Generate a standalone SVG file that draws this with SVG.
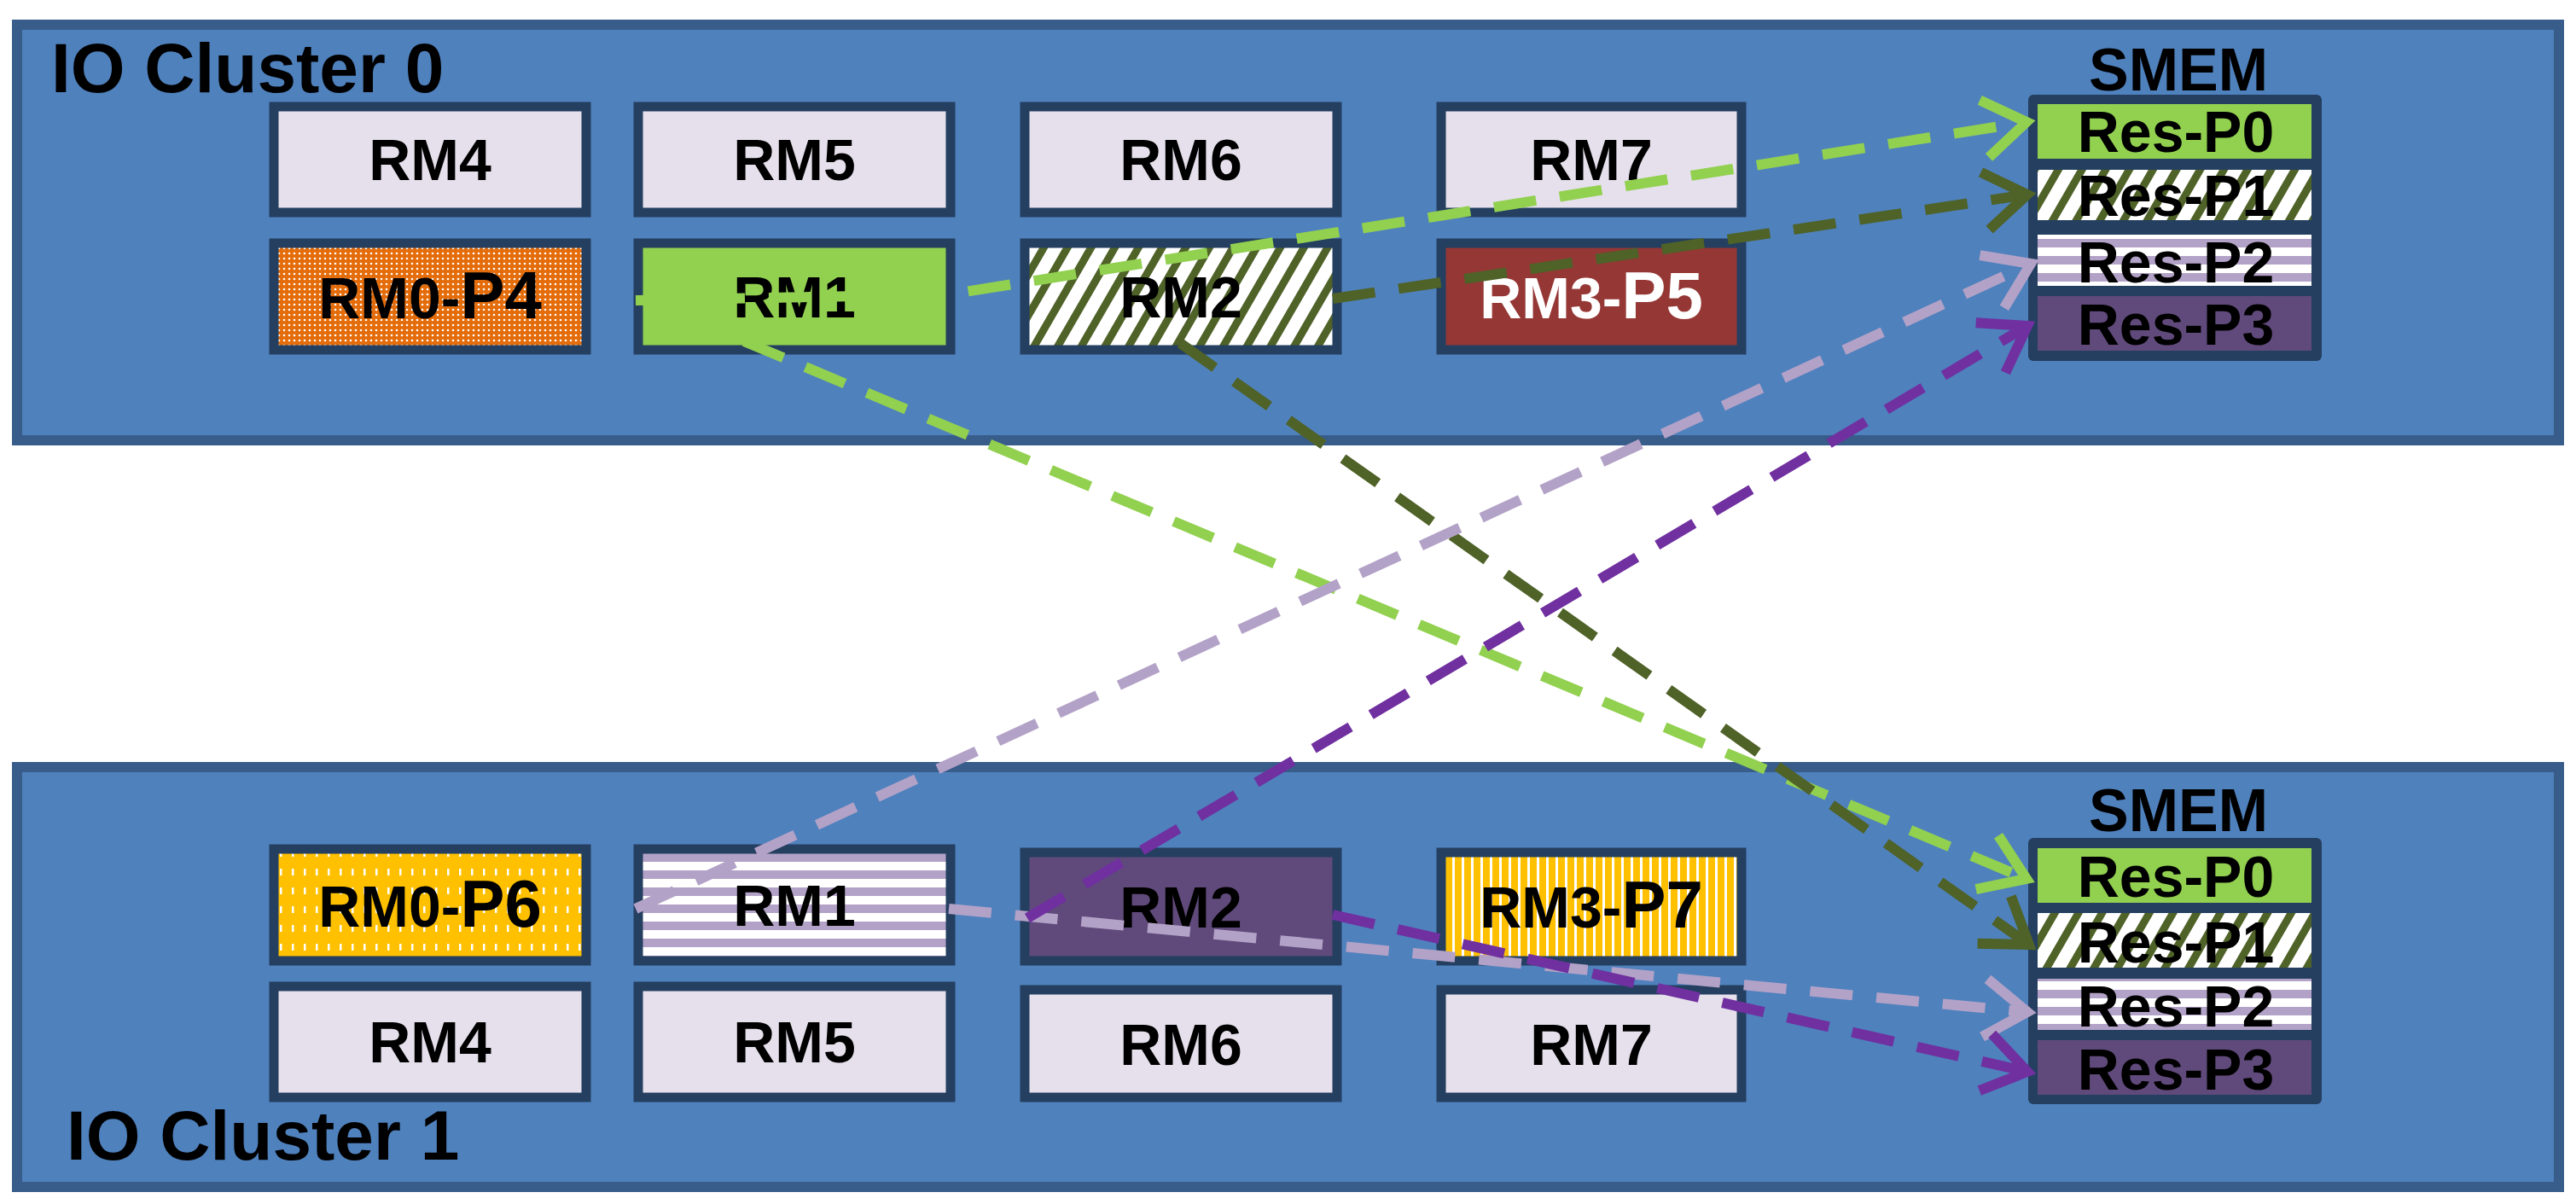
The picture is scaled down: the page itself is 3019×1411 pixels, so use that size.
<svg xmlns="http://www.w3.org/2000/svg" width="3019" height="1411" viewBox="0 0 3019 1411">
<style>
.cl{fill:#4f81bd;stroke:#385d8a;stroke-width:12}
.bx{stroke:#243f60;stroke-width:11}
.t{font-family:"Liberation Sans",Arial,sans-serif;font-weight:bold;fill:#000;text-anchor:middle}
.rm{font-size:68px}
.ttl{font-family:"Liberation Sans",Arial,sans-serif;font-weight:bold;font-size:82px;fill:#000}
.c{fill:none;stroke-width:12;stroke-dasharray:50 28}
</style>
<defs>
<pattern id="hatch" width="24" height="24" patternUnits="userSpaceOnUse" patternTransform="rotate(30)"><rect width="24" height="24" fill="#fff"/><rect width="9" height="24" fill="#4f6228"/></pattern>
<pattern id="hstr" width="20" height="20" patternUnits="userSpaceOnUse"><rect width="20" height="20" fill="#fff"/><rect y="0" width="20" height="10" fill="#b3a2c7"/></pattern>
<pattern id="vstr" width="11" height="11" patternUnits="userSpaceOnUse"><rect width="11" height="11" fill="#ffc000"/><rect x="8" width="3" height="11" fill="#fff"/></pattern>
<pattern id="odot" width="6" height="6" patternUnits="userSpaceOnUse"><rect width="6" height="6" fill="#e46c0a"/><circle cx="3" cy="3" r="1.3" fill="#fff"/></pattern>
<pattern id="ydot" width="14" height="22" patternUnits="userSpaceOnUse"><rect width="14" height="22" fill="#ffc000"/><rect x="6" y="6" width="2.5" height="8" fill="#fff"/></pattern>
<marker id="mG" markerUnits="userSpaceOnUse" markerWidth="90" markerHeight="90" viewBox="-70 -45 90 90" refX="0" refY="0" orient="auto"><path d="M-50 -34 L0 0 L-50 34" fill="none" stroke="#92d050" stroke-width="12"/></marker>
<marker id="mO" markerUnits="userSpaceOnUse" markerWidth="90" markerHeight="90" viewBox="-70 -45 90 90" refX="0" refY="0" orient="auto"><path d="M-50 -34 L0 0 L-50 34" fill="none" stroke="#4f6228" stroke-width="12"/></marker>
<marker id="mL" markerUnits="userSpaceOnUse" markerWidth="90" markerHeight="90" viewBox="-70 -45 90 90" refX="0" refY="0" orient="auto"><path d="M-50 -34 L0 0 L-50 34" fill="none" stroke="#b3a2c7" stroke-width="12"/></marker>
<marker id="mP" markerUnits="userSpaceOnUse" markerWidth="90" markerHeight="90" viewBox="-70 -45 90 90" refX="0" refY="0" orient="auto"><path d="M-50 -34 L0 0 L-50 34" fill="none" stroke="#7030a0" stroke-width="12"/></marker>
</defs>

<g id="cluster0">
<rect class="cl" x="20" y="29" width="2979" height="487"/>
<text class="ttl" x="60" y="108">IO Cluster 0</text>
</g>
<g id="cluster1">
<rect class="cl" x="20" y="899" width="2979" height="492"/>
<text class="ttl" x="78" y="1359">IO Cluster 1</text>
</g>

<g id="c0-rm4"><rect class="bx" x="321" y="125" width="366" height="124" fill="#e6e0ec"/><text class="t rm" x="504" y="211">RM4</text></g>
<g id="c0-rm5"><rect class="bx" x="748" y="125" width="366" height="124" fill="#e6e0ec"/><text class="t rm" x="931" y="211">RM5</text></g>
<g id="c0-rm6"><rect class="bx" x="1201" y="125" width="366" height="124" fill="#e6e0ec"/><text class="t rm" x="1384" y="211">RM6</text></g>
<g id="c0-rm7"><rect class="bx" x="1689" y="125" width="352" height="124" fill="#e6e0ec"/><text class="t rm" x="1865" y="211">RM7</text></g>
<g id="c0-rm0"><rect class="bx" x="321" y="285" width="366" height="125" fill="url(#odot)"/><text class="t rm" x="504" y="373">RM0-<tspan font-size="78">P4</tspan></text></g>
<g id="c0-rm1"><rect class="bx" x="748" y="285" width="366" height="125" fill="#92d050"/><text class="t rm" x="931" y="372">RM1</text></g>
<g id="c0-rm2"><rect class="bx" x="1201" y="285" width="366" height="125" fill="url(#hatch)"/><text class="t rm" x="1384" y="372">RM2</text></g>
<g id="c0-rm3"><rect class="bx" x="1689" y="285" width="352" height="125" fill="#953735"/><text class="t rm" x="1865" y="373" style="fill:#fff">RM3-<tspan font-size="78">P5</tspan></text></g>

<g id="c1-rm0"><rect class="bx" x="321" y="995" width="366" height="131" fill="url(#ydot)"/><text class="t rm" x="504" y="1086">RM0-<tspan font-size="78">P6</tspan></text></g>
<g id="c1-rm1"><rect class="bx" x="748" y="995" width="366" height="131" fill="url(#hstr)"/><text class="t rm" x="931" y="1085">RM1</text></g>
<g id="c1-rm2"><rect class="bx" x="1201" y="999" width="366" height="127" fill="#604a7b"/><text class="t rm" x="1384" y="1087">RM2</text></g>
<g id="c1-rm3"><rect class="bx" x="1689" y="999" width="352" height="127" fill="url(#vstr)"/><text class="t rm" x="1865" y="1087">RM3-<tspan font-size="78">P7</tspan></text></g>
<g id="c1-rm4"><rect class="bx" x="321" y="1156" width="366" height="130" fill="#e6e0ec"/><text class="t rm" x="504" y="1245">RM4</text></g>
<g id="c1-rm5"><rect class="bx" x="748" y="1156" width="366" height="130" fill="#e6e0ec"/><text class="t rm" x="931" y="1245">RM5</text></g>
<g id="c1-rm6"><rect class="bx" x="1201" y="1160" width="366" height="126" fill="#e6e0ec"/><text class="t rm" x="1384" y="1248">RM6</text></g>
<g id="c1-rm7"><rect class="bx" x="1689" y="1160" width="352" height="126" fill="#e6e0ec"/><text class="t rm" x="1865" y="1248">RM7</text></g>

<g id="smem0">
<text class="t" font-size="70" x="2553" y="106">SMEM</text>
<rect x="2377" y="111" width="344" height="312" rx="6" fill="#243f60"/>
<rect x="2388" y="122" width="321" height="64" fill="#92d050"/>
<rect x="2388" y="199" width="321" height="59" fill="url(#hatch)"/>
<rect x="2388" y="275" width="321" height="60" fill="url(#hstr)"/>
<rect x="2388" y="347" width="321" height="64" fill="#604a7b"/>
<text class="t rm" x="2550" y="178">Res-P0</text>
<text class="t rm" x="2550" y="253">Res-P1</text>
<text class="t rm" x="2550" y="331">Res-P2</text>
<text class="t rm" x="2550" y="404">Res-P3</text>
</g>
<g id="smem1">
<text class="t" font-size="70" x="2553" y="974">SMEM</text>
<rect x="2377" y="982" width="344" height="312" rx="6" fill="#243f60"/>
<rect x="2388" y="994" width="321" height="64" fill="#92d050"/>
<rect x="2388" y="1070" width="321" height="64" fill="url(#hatch)"/>
<rect x="2388" y="1147" width="321" height="60" fill="url(#hstr)"/>
<rect x="2388" y="1219" width="321" height="64" fill="#604a7b"/>
<text class="t rm" x="2550" y="1051">Res-P0</text>
<text class="t rm" x="2550" y="1128">Res-P1</text>
<text class="t rm" x="2550" y="1203">Res-P2</text>
<text class="t rm" x="2550" y="1277">Res-P3</text>
</g>

<g id="connectors">
<path class="c" stroke="#92d050" d="M745 352 L1112 345 L2375 143" marker-end="url(#mG)"/>
<path class="c" stroke="#92d050" d="M872 400 L2375 1030" marker-end="url(#mG)"/>
<path class="c" stroke="#4f6228" d="M1562 350 L2376 228" marker-end="url(#mO)"/>
<path class="c" stroke="#4f6228" d="M1383 402 L2378 1107" marker-end="url(#mO)"/>
<path class="c" stroke="#b3a2c7" d="M745 1065 L2380 309" marker-end="url(#mL)"/>
<path class="c" stroke="#b3a2c7" d="M1112 1065 L2376 1186" marker-end="url(#mL)"/>
<path class="c" stroke="#7030a0" d="M1204 1076 L2376 382" marker-end="url(#mP)"/>
<path class="c" stroke="#7030a0" d="M1562 1072 L2376 1256" marker-end="url(#mP)"/>
</g>
</svg>
